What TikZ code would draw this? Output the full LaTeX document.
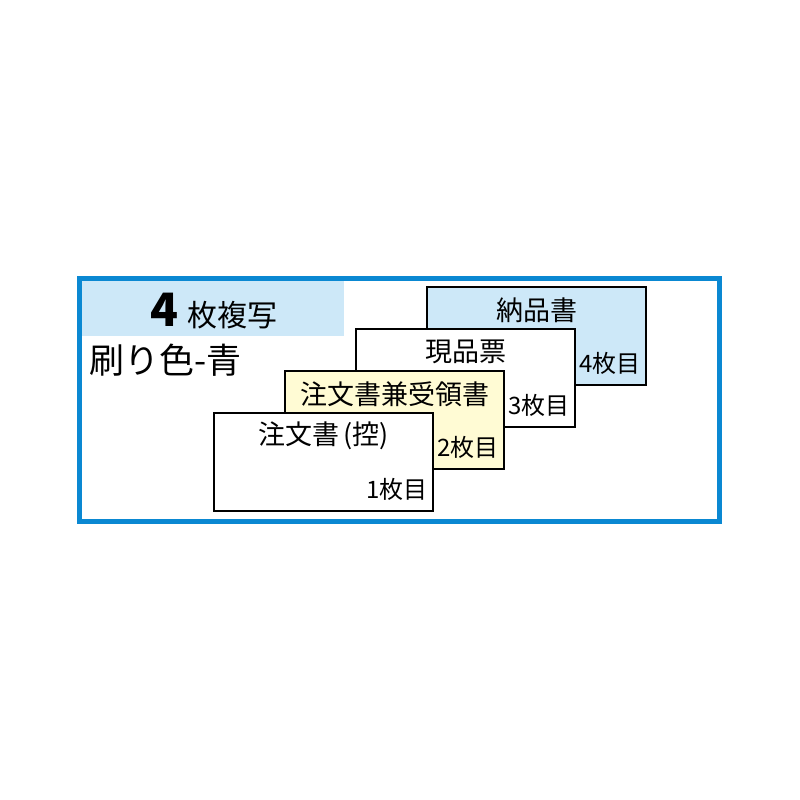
\documentclass[tikz,border=0pt]{standalone}
\usepackage{fontspec}
\setmainfont{Noto Sans CJK JP}
\definecolor{framblue}{HTML}{0A88D2}
\definecolor{paleblue}{HTML}{CDE8F8}
\definecolor{paleyellow}{HTML}{FFFBD4}
\begin{document}
\begin{tikzpicture}[x=1pt,y=-1pt,
  card/.style={draw=black,line width=1.3pt,minimum width=219pt,minimum height=98pt,anchor=north west,inner sep=0pt,outer sep=0pt},
  ctitle/.style={font=\fontsize{27}{29}\selectfont,inner sep=0pt},
  clabel/.style={font=\fontsize{24}{26}\selectfont,inner sep=0pt,anchor=east}]
\useasboundingbox (0,0) rectangle (800,800);
\fill[white] (0,0) rectangle (800,800);
% frame
\node[draw=framblue,line width=4.5pt,minimum width=640pt,minimum height=243pt,anchor=north west,inner sep=0pt,outer sep=0pt] (frame) at (79.3,278.3) {};
\node[fill=paleblue,minimum width=262pt,minimum height=55pt,anchor=north west,inner sep=0pt,outer sep=0pt] (head) at (81.5,280.5) {};
\node[inner sep=0pt] (headtxt) at (214,311) {\fontsize{46}{48}\selectfont\bfseries 4\hspace{8pt}\fontsize{30}{32}\selectfont\mdseries 枚複写};
\node[inner sep=0pt,anchor=west,font=\fontsize{35}{37}\selectfont] (ink) at (89,360) {刷り色-青};
% cards
\node[card,fill=paleblue] (c4) at (427,287) {};
\node[card,fill=white] (c3) at (356,329) {};
\node[card,fill=paleyellow] (c2) at (285,371) {};
\node[card,fill=white] (c1) at (214,413) {};
\node[ctitle] (t4) at ([yshift=-23pt]c4.north) {納品書};
\node[clabel] (l4) at ([xshift=-5pt,yshift=22pt]c4.south east) {4枚目};
\node[ctitle] (t3) at ([yshift=-23pt]c3.north) {現品票};
\node[clabel] (l3) at ([xshift=-5pt,yshift=22pt]c3.south east) {3枚目};
\node[ctitle] (t2) at ([yshift=-23pt]c2.north) {注文書兼受領書};
\node[clabel] (l2) at ([xshift=-5pt,yshift=22pt]c2.south east) {2枚目};
\node[ctitle] (t1) at ([yshift=-23pt]c1.north) {注文書\hspace{4pt}(控)};
\node[clabel] (l1) at ([xshift=-5pt,yshift=22pt]c1.south east) {1枚目};
\end{tikzpicture}
\end{document}
